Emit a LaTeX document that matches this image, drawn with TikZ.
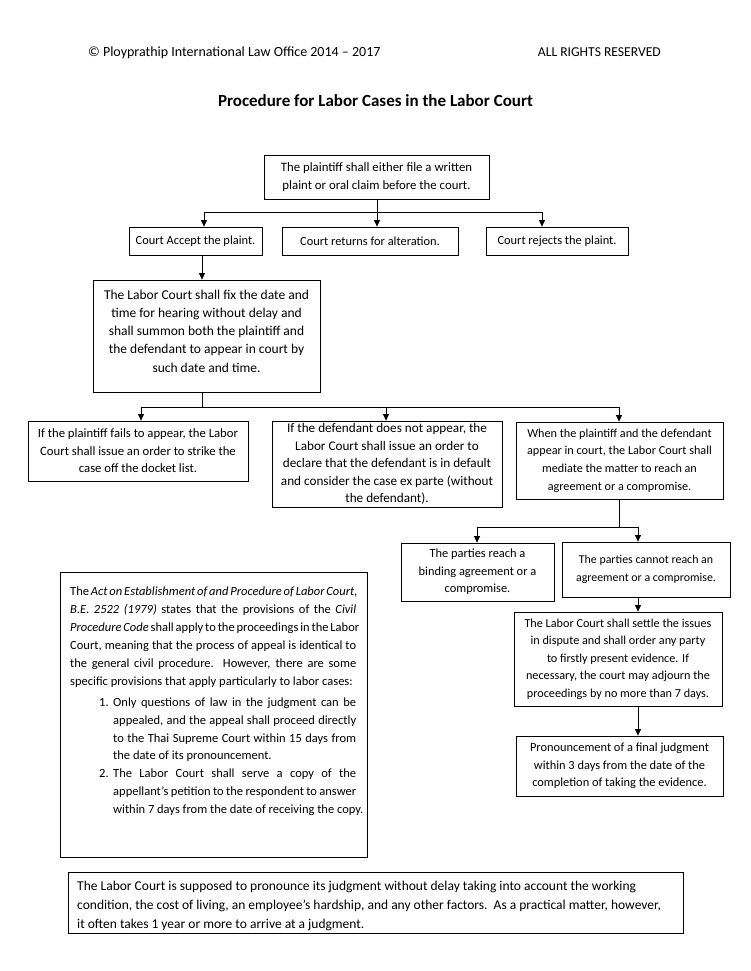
\documentclass[tikz,border=0pt]{standalone}
\usepackage{fontspec}
\setmainfont{Carlito}
\usetikzlibrary{arrows.meta}
\begin{document}
\begin{tikzpicture}[x=1pt,y=-1pt,
  every node/.style={inner sep=0pt},
  small/.style={font=\fontsize{12.4}{17.6}\selectfont},
  box/.style={draw, line width=0.8pt, align=center, small},
  conn/.style={line width=0.8pt},
  arr/.style={line width=0.8pt, -{Triangle[width=6pt,length=6.5pt]}}
]
\fill[white] (0,0) rectangle (750,971);
\useasboundingbox (0,0) rectangle (750,971);

% header and title
\node[anchor=base west, font=\fontsize{14}{17}\selectfont] (copy) at (88,57) {© Ployprathip International Law Office 2014 – 2017};
\node[anchor=base east, font=\fontsize{13.6}{17}\selectfont] (rights) at (661,57) {ALL RIGHTS RESERVED};
\node[font=\fontsize{17}{20}\selectfont\bfseries] (title) at (375.5,101) {Procedure for Labor Cases in the Labor Court};

% flow boxes
\node[box, minimum width=225pt, minimum height=44pt, font=\fontsize{12.8}{17.8}\selectfont] (top) at (376.5,177)
  {The plaintiff shall either file a written\\plaint or oral claim before the court.};
\node[box, minimum width=133pt, minimum height=28pt] (A) at (195.5,241) {Court Accept the plaint.};
\node[box, minimum width=176pt, minimum height=28pt] (B) at (370,241) {Court returns for alteration.};
\node[box, minimum width=142pt, minimum height=28pt] (C) at (557,241) {Court rejects the plaint.};
\node[box, minimum width=227pt, minimum height=112pt] (H) at (206.5,336) {};
\node[align=center, font=\fontsize{13.5}{18.3}\selectfont] (Htext) at (206.5,331)
  {The Labor Court shall fix the date and\\time for hearing without delay and\\shall summon both the plaintiff and\\the defendant to appear in court by\\such date and time.};
\node[box, minimum width=220pt, minimum height=60pt, font=\fontsize{12.7}{17.6}\selectfont] (L) at (138,451)
  {If the plaintiff fails to appear, the Labor\\Court shall issue an order to strike the\\case off the docket list.};
\node[box, minimum width=230pt, minimum height=86pt, font=\fontsize{13.2}{17.5}\selectfont] (M) at (387,464)
  {If the defendant does not appear, the\\Labor Court shall issue an order to\\declare that the defendant is in default\\and consider the case ex parte (without\\the defendant).};
\node[box, minimum width=207pt, minimum height=77pt, font=\fontsize{12.2}{17.7}\selectfont] (R) at (619.5,460.5)
  {When the plaintiff and the defendant\\appear in court, the Labor Court shall\\mediate the matter to reach an\\agreement or a compromise.};
\node[box, minimum width=153pt, minimum height=58pt] (P1) at (477.5,572)
  {The parties reach a\\binding agreement or a\\compromise.};
\node[box, minimum width=168pt, minimum height=55pt, font=\fontsize{11.9}{17.4}\selectfont] (P2) at (646,569.5)
  {The parties cannot reach an\\agreement or a compromise.};
\node[box, minimum width=208pt, minimum height=94pt, font=\fontsize{12.2}{17.5}\selectfont] (S) at (618,659)
  {The Labor Court shall settle the issues\\in dispute and shall order any party\\to firstly present evidence. If\\necessary, the court may adjourn the\\proceedings by no more than 7 days.};
\node[box, minimum width=207pt, minimum height=60pt] (F) at (619.5,766)
  {Pronouncement of a final judgment\\within 3 days from the date of the\\completion of taking the evidence.};

% note box
\node[draw, line width=0.8pt, minimum width=307pt, minimum height=285pt] (note) at (213.5,714.5) {};
\node[anchor=north west, align=left, font=\fontsize{12.5}{17.9}\selectfont] (notetext) at (70,587) {%
\makebox[286pt][s]{The \textit{Act on Establishment of and Procedure of Labor Court,}}\\
\makebox[286pt][s]{\textit{B.E. 2522 (1979)} states that the provisions of the \textit{Civil}}\\
\makebox[286pt][s]{\textit{Procedure Code} shall apply to the proceedings in the Labor}\\
\makebox[286pt][s]{Court, meaning that the process of appeal is identical to}\\
\makebox[286pt][s]{the general civil procedure. However, there are some}\\
\mbox{specific provisions that apply particularly to labor cases:}\\[3pt]
\hspace*{29pt}\makebox[14pt][l]{1.}\makebox[243pt][s]{Only questions of law in the judgment can be}\\
\hspace*{43pt}\makebox[243pt][s]{appealed, and the appeal shall proceed directly}\\
\hspace*{43pt}\makebox[243pt][s]{to the Thai Supreme Court within 15 days from}\\
\hspace*{43pt}\mbox{the date of its pronouncement.}\\
\hspace*{29pt}\makebox[14pt][l]{2.}\makebox[243pt][s]{The Labor Court shall serve a copy of the}\\
\hspace*{43pt}\makebox[243pt][s]{appellant’s petition to the respondent to answer}\\
\hspace*{43pt}\mbox{within 7 days from the date of receiving the copy.}};

% bottom box
\node[draw, line width=0.8pt, minimum width=615pt, minimum height=61pt] (bottom) at (375.5,902.5) {};
\node[anchor=west, align=left, font=\fontsize{13.5}{18.8}\selectfont] (bottomtext) at (77,906)
  {\mbox{The Labor Court is supposed to pronounce its judgment without delay taking into account the working}\\
   \mbox{condition, the cost of living, an employee’s hardship, and any other factors.\ \ As a practical matter, however,}\\
   \mbox{it often takes 1 year or more to arrive at a judgment.}};

% connectors
\coordinate (j1) at (377,212);
\draw[conn] (top.south -| j1) -- (j1);
\draw[arr] (j1) -| (A.north -| 204,0);
\draw[arr] (j1) -- (B.north -| j1);
\draw[arr] (j1) -| (C.north -| 542,0);
\draw[arr] (A.south -| 202,0) -- (H.north -| 202,0);
\coordinate (j2) at (202,407);
\draw[conn] (H.south -| j2) -- (j2);
\draw[arr] (j2) -| (L.north -| 141,0);
\draw[arr] (j2) -| (M.north -| 386,0);
\draw[arr] (j2) -| (R.north -| 619,0);
\coordinate (j3) at (619,527);
\draw[conn] (R.south -| j3) -- (j3);
\draw[arr] (j3) -| (P1.north -| 477,0);
\draw[arr] (j3) -| (P2.north -| 638,0);
\draw[arr] (P2.south -| 638,0) -- (S.north -| 638,0);
\draw[arr] (S.south -| 638,0) -- (F.north -| 638,0);
\end{tikzpicture}
\end{document}
